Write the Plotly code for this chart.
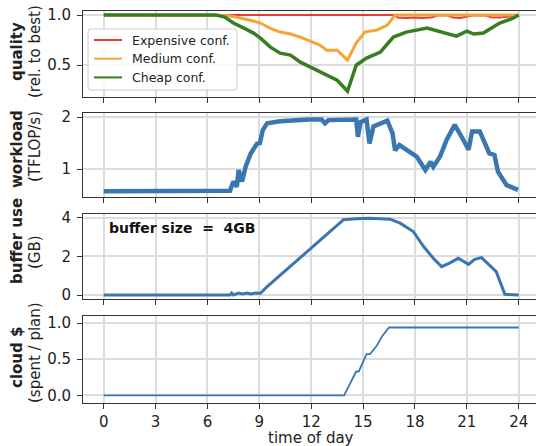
import plotly.graph_objects as go

# ---------------- data ----------------
hour_ticks = [0, 3, 6, 9, 12, 15, 18, 21, 24]
hour_tick_labels = ["0", "3", "6", "9", "12", "15", "18", "21", "24"]

config_names = ["Expensive conf.", "Medium conf.", "Cheap conf."]

# quality (relative to best)
exp_hours = [0, 16.85, 17.0, 17.5, 18.0, 18.5, 19.0, 19.3, 19.9, 20.2, 20.6, 21.0, 21.3, 22.1, 22.4, 22.9, 23.4, 23.8, 24]
exp_quality = [1.0, 1.0, 0.975, 0.97, 0.975, 0.97, 0.978, 0.995, 0.995, 0.975, 0.97, 0.98, 0.995, 0.995, 0.978, 0.975, 0.98, 0.99, 1.0]

med_hours = [0, 6.3, 7.0, 7.5, 8.2, 8.66, 9.06, 9.6, 10.2, 10.8, 11.37, 12.04, 12.5, 12.9, 13.5, 14.1, 14.6, 15.1, 15.8, 16.4, 16.85, 24]
med_quality = [1.0, 1.0, 0.995, 0.985, 0.96, 0.94, 0.92, 0.87, 0.83, 0.81, 0.78, 0.73, 0.70, 0.65, 0.65, 0.55, 0.72, 0.83, 0.85, 0.90, 1.0, 1.0]

cheap_hours = [0, 2.3, 2.7, 3.2, 6.5, 7.0, 7.5, 8.1, 8.66, 9.06, 9.64, 10.2, 10.8, 11.37, 12.1, 12.9, 13.5, 14.1, 14.6, 15.2, 16.0, 16.75, 17.5, 18.7, 19.6, 20.4, 21.0, 21.4, 21.95, 22.9, 23.7, 24.0]
cheap_quality = [1.0, 1.0, 0.993, 1.0, 1.0, 0.98, 0.92, 0.87, 0.82, 0.77, 0.68, 0.62, 0.60, 0.53, 0.47, 0.40, 0.35, 0.24, 0.50, 0.57, 0.63, 0.78, 0.83, 0.87, 0.83, 0.79, 0.84, 0.81, 0.82, 0.92, 0.97, 1.0]

# workload (TFLOP/s)
work_hours = [0, 1.7, 1.8, 5.0, 5.1, 7.3, 7.5, 7.7, 7.8, 8.0, 8.2, 8.5, 8.87, 9.03, 9.2, 9.45, 10.2, 11.0, 11.9, 12.6, 12.8, 13.0, 13.8, 14.6, 14.7, 14.85, 15.2, 15.37, 15.6, 16.4, 16.7, 16.85, 17.1, 17.7, 18.1, 18.6, 18.9, 19.06, 19.45, 19.83, 20.3, 20.7, 21.1, 21.3, 21.75, 22.3, 22.6, 22.8, 23.3, 23.96]
workload = [0.57, 0.57, 0.59, 0.57, 0.59, 0.58, 0.76, 0.66, 0.98, 0.76, 1.04, 1.30, 1.49, 1.50, 1.75, 1.88, 1.92, 1.94, 1.95, 1.95, 1.88, 1.94, 1.95, 1.95, 1.62, 1.90, 1.95, 1.49, 1.82, 1.93, 1.69, 1.36, 1.46, 1.33, 1.24, 0.98, 1.14, 1.04, 1.24, 1.56, 1.85, 1.62, 1.37, 1.72, 1.72, 1.30, 1.27, 0.95, 0.69, 0.60]

# buffer use (GB)
buf_hours = [0, 7.3, 7.4, 7.5, 7.8, 8.0, 8.3, 8.5, 8.8, 9.06, 9.45, 13.87, 14.6, 15.4, 16.56, 17.14, 17.9, 18.5, 19.06, 19.54, 20.0, 20.5, 21.1, 21.45, 21.85, 22.7, 23.2, 24]
buffer_use = [0, 0, 0.1, 0, 0.1, 0.05, 0.1, 0.05, 0.1, 0.09, 0.43, 3.9, 3.95, 3.98, 3.93, 3.72, 3.29, 2.51, 1.9, 1.47, 1.65, 1.9, 1.59, 1.85, 1.94, 1.21, 0.04, 0]

# cloud $ (spent / plan)
cloud_hours = [0, 13.9, 14.6, 14.75, 15.2, 15.4, 15.8, 16.1, 16.5, 24]
cloud_spent = [0, 0, 0.33, 0.33, 0.57, 0.57, 0.69, 0.82, 0.94, 0.94]

# ---------------- styling ----------------
W, H = 536, 446
L = 83
FONT = "DejaVu Sans"
TXT = "#222222"
GRID = "#dcdcdc"
SPINE = "#333333"
RED, ORANGE, GREEN, BLUE = "#e53d33", "#f5a534", "#387d22", "#3a76b0"
config_colors = [RED, ORANGE, GREEN]


def py(p):  # pixel row -> paper y
    return (H - p) / H


def px(p):  # pixel column -> paper x
    return (p - L) / (W - L)


panels = [(11, 97), (113, 197.3), (214.3, 299), (316.3, 402.5)]
yranges = [[0.183, 1.04], [0.456, 2.077], [-0.207, 4.18], [-0.1, 1.095]]
yticks = [([0.5, 1.0], ["0.5", "1.0"]), ([1, 2], ["1", "2"]), ([0, 2, 4], ["0", "2", "4"]),
          ([0, 0.5, 1.0], ["0.0", "0.5", "1.0"])]

fig = go.Figure()
fig.add_trace(go.Scatter(x=exp_hours, y=exp_quality, mode="lines", name=config_names[0],
                         line=dict(color=RED, width=2), xaxis="x", yaxis="y"))
fig.add_trace(go.Scatter(x=med_hours, y=med_quality, mode="lines", name=config_names[1],
                         line=dict(color=ORANGE, width=3), xaxis="x", yaxis="y"))
fig.add_trace(go.Scatter(x=cheap_hours, y=cheap_quality, mode="lines", name=config_names[2],
                         line=dict(color=GREEN, width=3.5), xaxis="x", yaxis="y"))
fig.add_trace(go.Scatter(x=work_hours, y=workload, mode="lines",
                         line=dict(color=BLUE, width=4.5), xaxis="x2", yaxis="y2"))
fig.add_trace(go.Scatter(x=buf_hours, y=buffer_use, mode="lines",
                         line=dict(color=BLUE, width=3), xaxis="x3", yaxis="y3"))
fig.add_trace(go.Scatter(x=cloud_hours, y=cloud_spent, mode="lines",
                         line=dict(color=BLUE, width=1.8), xaxis="x4", yaxis="y4"))

layout = dict(
    width=W, height=H,
    margin=dict(l=L, r=0, t=0, b=0, pad=0),
    paper_bgcolor="white", plot_bgcolor="white",
    font=dict(family=FONT, size=15, color=TXT),
    showlegend=False,
)
for i, ((top, bot), yr, (tv, tt)) in enumerate(zip(panels, yranges, yticks)):
    sfx = "" if i == 0 else str(i + 1)
    layout["xaxis" + sfx] = dict(
        domain=[0, 1], anchor="y" + sfx, range=[-1.2, 25.0],
        tickmode="array", tickvals=hour_ticks, ticktext=hour_tick_labels,
        showticklabels=(i == 3), ticks="outside", ticklen=5, tickwidth=1, tickcolor=SPINE,
        showgrid=True, gridcolor=GRID, gridwidth=2, zeroline=False,
        showline=True, mirror=True, linecolor=SPINE, linewidth=1,
        tickfont=dict(size=15, color=TXT), automargin=False,
    )
    layout["yaxis" + sfx] = dict(
        domain=[py(bot), py(top)], anchor="x" + sfx, range=yr,
        tickmode="array", tickvals=tv, ticktext=tt,
        ticks="outside", ticklen=5, tickwidth=1, tickcolor=SPINE, ticklabelstandoff=3,
        showgrid=True, gridcolor=GRID, gridwidth=2, zeroline=False,
        showline=True, mirror=False, linecolor=SPINE, linewidth=1,
        tickfont=dict(size=15, color=TXT), automargin=False,
    )
fig.update_layout(**layout)

# y-axis labels (bold line + unit line)
ylabels = [
    ("<b>quality</b>", 52, "(rel. to best)", 52),
    ("<b>workload</b>", 149, "(TFLOP/s)", 147),
    ("<b>buffer use</b>", 241, "(GB)", 252),
    ("<b>cloud $</b>", 358, "(spent / plan)", 353),
]
for bold, yb, norm, yn in ylabels:
    fig.add_annotation(text=bold, xref="paper", yref="paper", x=px(17), y=py(yb),
                       xanchor="center", yanchor="middle", textangle=-90, showarrow=False,
                       font=dict(family=FONT, size=15, color=TXT))
    fig.add_annotation(text=norm, xref="paper", yref="paper", x=px(35), y=py(yn),
                       xanchor="center", yanchor="middle", textangle=-90, showarrow=False,
                       font=dict(family=FONT, size=15, color=TXT))

fig.add_annotation(text="time of day", xref="paper", yref="paper", x=px(311), y=py(438),
                   xanchor="center", yanchor="middle", showarrow=False,
                   font=dict(family=FONT, size=15, color=TXT))
fig.add_annotation(text="<b>buffer size \u00a0=\u00a0 4GB</b>", xref="paper", yref="paper",
                   x=px(107), y=py(228), xanchor="left", yanchor="middle", showarrow=False,
                   font=dict(family=FONT, size=14, color="#111111"))

# legend box (matplotlib style, rounded corners)
bx0, bx1, by0, by1, r = 88, 237, 29, 90, 3
path = (f"M {px(bx0 + r)},{py(by0)} L {px(bx1 - r)},{py(by0)} "
        f"Q {px(bx1)},{py(by0)} {px(bx1)},{py(by0 + r)} L {px(bx1)},{py(by1 - r)} "
        f"Q {px(bx1)},{py(by1)} {px(bx1 - r)},{py(by1)} L {px(bx0 + r)},{py(by1)} "
        f"Q {px(bx0)},{py(by1)} {px(bx0)},{py(by1 - r)} L {px(bx0)},{py(by0 + r)} "
        f"Q {px(bx0)},{py(by0)} {px(bx0 + r)},{py(by0)} Z")
fig.add_shape(type="path", path=path, xref="paper", yref="paper",
              fillcolor="rgba(255,255,255,0.85)", line=dict(color="#cccccc", width=1), layer="above")
for k, (name, col) in enumerate(zip(config_names, config_colors)):
    yrow = 40 + k * 18.7
    fig.add_shape(type="line", xref="paper", yref="paper", x0=px(94), x1=px(122),
                  y0=py(yrow), y1=py(yrow), line=dict(color=col, width=2), layer="above")
    fig.add_annotation(text=name, xref="paper", yref="paper", x=px(130), y=py(yrow),
                       xanchor="left", yanchor="middle", showarrow=False,
                       font=dict(family=FONT, size=12.5, color=TXT))

fig.write_html("out.html", config={"displayModeBar": False},
               post_script="document.body.style.margin='0';document.body.style.overflow='hidden';")
